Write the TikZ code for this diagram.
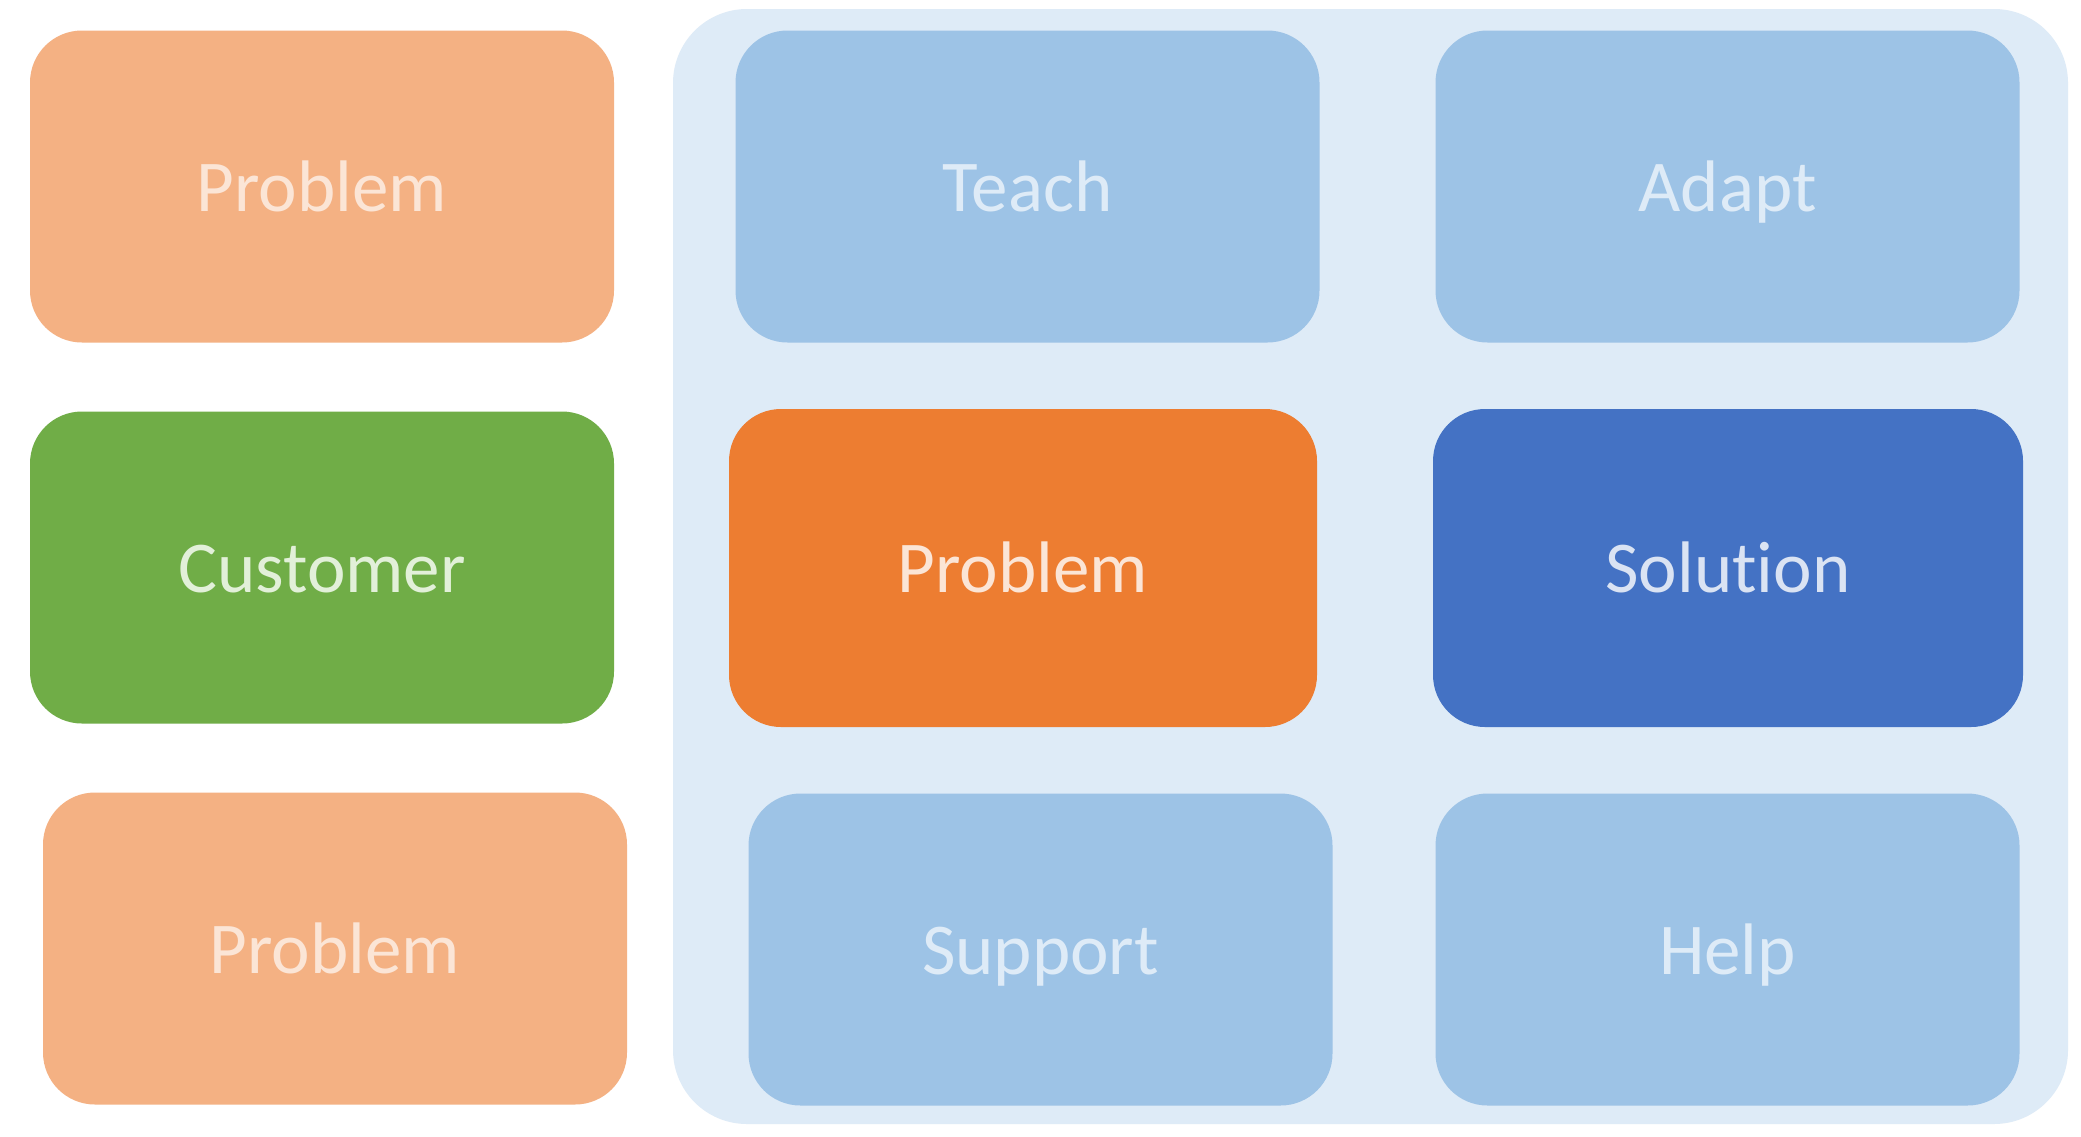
\documentclass[tikz,border=0pt]{standalone}
\usepackage{fontspec}
\setmainfont{Carlito}[Ligatures={NoCommon,NoDiscretionary,NoContextual}]
\definecolor{lorange}{HTML}{F4B183}
\definecolor{dorange}{HTML}{ED7D31}
\definecolor{cgreen}{HTML}{70AD47}
\definecolor{dblue}{HTML}{4472C4}
\definecolor{lblue}{HTML}{9DC3E6}
\definecolor{panelc}{HTML}{DEEBF7}
\definecolor{txtorange}{HTML}{FBE5D6}
\definecolor{txtgreen}{HTML}{E2F0D9}
\definecolor{txtblue}{HTML}{DAE3F3}
\definecolor{txtlblue}{HTML}{DEEBF7}
\begin{document}
\begin{tikzpicture}[x=0.5pt,y=-0.5pt,
  card/.style={rounded corners=26pt, inner sep=0pt, outer sep=0pt,
    text height=24.5pt, text depth=0pt,
    font=\fontsize{36.5pt}{40pt}\selectfont},
  cardA/.style={card, minimum width=292pt, minimum height=156pt},
  lorangebox/.style={cardA, fill=lorange, text=txtorange},
  greenbox/.style={cardA, fill=cgreen, text=txtgreen},
  lbluebox/.style={cardA, fill=lblue, text=txtlblue},
  dorangebox/.style={card, minimum width=294pt, minimum height=159pt, fill=dorange, text=txtorange},
  dbluebox/.style={card, minimum width=295pt, minimum height=159pt, fill=dblue, text=txtblue},
  panelbox/.style={rounded corners=37pt, inner sep=0pt, outer sep=0pt, fill=panelc,
    minimum width=697.5pt, minimum height=557.5pt}]
\useasboundingbox (0,0) rectangle (2081,1136);
\fill[white] (0,0) rectangle (2081,1136);
\node[panelbox] (panel) at (1370.5,566.5) {};
\node[lorangebox] (p1) at (322,186.5) {Problem};
\node[greenbox] (cust) at (322,567.5) {Customer};
\node[lorangebox] (p2) at (335,948.5) {Problem};
\node[lbluebox] (teach) at (1027.5,186.5) {Teach};
\node[lbluebox] (adapt) at (1727.5,186.5) {Adapt};
\node[dorangebox] (prob) at (1023,568) {Problem};
\node[dbluebox] (sol) at (1728,568) {Solution};
\node[lbluebox] (sup) at (1040.5,949.5) {Support};
\node[lbluebox] (help) at (1727.5,949.5) {Help};
\end{tikzpicture}
\end{document}
